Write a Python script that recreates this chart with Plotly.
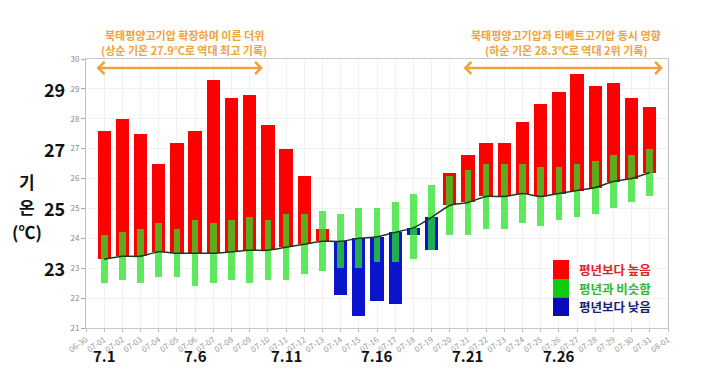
import plotly.graph_objects as go

# ---- data ----
dates = ["06-30"] + [f"07-{d:02d}" for d in range(1, 32)] + ["08-01"]
days = [f"07-{d:02d}" for d in range(1, 32)]

observed = [27.6, 28.0, 27.5, 26.5, 27.2, 27.6, 29.3, 28.7, 28.8, 27.8, 27.0, 26.1,
            24.3, 22.1, 21.4, 21.9, 21.8, 24.1, 23.6, 26.2, 26.8, 27.2, 27.2, 27.9,
            28.5, 28.9, 29.5, 29.1, 29.2, 28.7, 28.4]
normal = [23.3, 23.4, 23.4, 23.55, 23.5, 23.5, 23.5, 23.55, 23.6, 23.6, 23.7, 23.8,
          23.9, 23.9, 24.0, 24.05, 24.2, 24.35, 24.7, 25.1, 25.2, 25.4, 25.4, 25.5,
          25.4, 25.5, 25.6, 25.7, 25.9, 26.0, 26.2]
sim_high = [24.1, 24.2, 24.3, 24.5, 24.3, 24.6, 24.5, 24.6, 24.7, 24.6, 24.8, 24.8,
            24.9, 24.8, 25.0, 25.0, 25.2, 25.5, 25.8, 26.1, 26.3, 26.5, 26.5, 26.5,
            26.4, 26.4, 26.5, 26.6, 26.8, 26.8, 27.0]
sim_low = [22.5, 22.6, 22.5, 22.7, 22.7, 22.4, 22.5, 22.6, 22.5, 22.6, 22.6, 22.8,
           22.9, 23.0, 23.0, 23.2, 23.2, 23.3, 23.6, 24.1, 24.1, 24.3, 24.3, 24.5,
           24.4, 24.6, 24.7, 24.8, 25.0, 25.2, 25.4]

y_big_labels = [29, 27, 25, 23]
x_big_labels = ["07-01", "07-06", "07-11", "07-16", "07-21", "07-26"]
x_big_text = ["7.1", "7.6", "7.11", "7.16", "7.21", "7.26"]

legend_labels = ["평년보다 높음", "평년과 비슷함", "평년보다 낮음"]
note_left = ["북태평양고기압 확장하며 이른 더위", "(상순 기온 27.9℃로 역대 최고 기록)"]
note_right = ["북태평양고기압과 티베트고기압 동시 영향", "(하순 기온 28.3℃로 역대 2위 기록)"]

RED = "#ff0000"
BLUE = "#0a14cc"
GREEN_T = "rgba(40,225,40,0.75)"
ORANGE = "#f0a23c"
FONT = "Noto Sans CJK KR, sans-serif"

dev = [o - n for o, n in zip(observed, normal)]
dev_colors = [RED if d >= 0 else BLUE for d in dev]

fig = go.Figure()
fig.add_trace(go.Bar(x=days, y=dev, base=normal, width=0.73,
                     marker=dict(color=dev_colors, line=dict(width=0)),
                     showlegend=False, hoverinfo="skip"))
fig.add_trace(go.Bar(x=days, y=[h - l for h, l in zip(sim_high, sim_low)], base=sim_low,
                     width=0.37, marker=dict(color=GREEN_T, line=dict(width=0)),
                     showlegend=False, hoverinfo="skip"))
fig.add_trace(go.Scatter(x=days, y=normal, mode="lines",
                         line=dict(color="#1d3a1d", width=1.5, shape="spline", smoothing=0.6),
                         showlegend=False, hoverinfo="skip"))

L, R, T, B = 86, 52, 59, 48
W, H = 720, 376
pw, ph = W - L - R, H - T - B


def px_x(p):
    return (p - L) / pw


def px_y(p):
    return (H - B - p) / ph


ann = []
for v in y_big_labels:
    ann.append(dict(x=px_x(54), xref="paper", y=v, yref="y", text=f"<b>{v}</b>",
                    xanchor="center", yanchor="middle",
                    showarrow=False, font=dict(size=18, color="#111", family=FONT)))
for d, t in zip(x_big_labels, x_big_text):
    ann.append(dict(x=d, xref="x", y=px_y(355), yref="paper", text=f"<b>{t}</b>",
                    xanchor="center", yanchor="middle",
                    showarrow=False, font=dict(size=15, color="#111", family=FONT)))
for t, yy in zip(["기", "온", "(℃)"], [181, 206, 231]):
    ann.append(dict(x=px_x(27), xref="paper", y=px_y(yy), yref="paper", text=f"<b>{t}</b>",
                    xanchor="center", yanchor="middle",
                    showarrow=False, font=dict(size=17, color="#111", family=FONT)))

for cx, lines in [(184, note_left), (566, note_right)]:
    for t, yy in zip(lines, [35, 50]):
        ann.append(dict(x=px_x(cx), y=px_y(yy), xref="paper", yref="paper", showarrow=False,
                        xanchor="center", yanchor="middle", text=f"<b>{t}</b>",
                        font=dict(size=11, color=ORANGE, family=FONT)))

for x0, x1 in [(95, 263), (462, 663)]:
    ann.append(dict(x=px_x(x1), y=px_y(68), xref="paper", yref="paper",
                    ax=-(x1 - x0), ay=0, axref="pixel", ayref="pixel", text="",
                    showarrow=True, arrowhead=4, arrowside="end+start",
                    arrowsize=0.9, arrowwidth=2.6, arrowcolor=ORANGE, standoff=0, startstandoff=0))

shapes = []
leg_cols = ["#ff0000", "#11cc11", "#0a0abb"]
txt_cols = ["#e02424", "#2fb82f", "#1c1c80"]
edges = [260, 279, 297.5, 316]
for i in range(3):
    shapes.append(dict(type="rect", xref="paper", yref="paper",
                       x0=px_x(553), x1=px_x(569), y0=px_y(edges[i + 1]), y1=px_y(edges[i]),
                       fillcolor=leg_cols[i], line=dict(width=0)))
    ann.append(dict(x=px_x(577), y=px_y((edges[i] + edges[i + 1]) / 2), xref="paper", yref="paper",
                    xanchor="left", yanchor="middle", showarrow=False, text=f"<b>{legend_labels[i]}</b>",
                    font=dict(size=12.5, color=txt_cols[i], family=FONT)))

fig.update_layout(
    width=W, height=H, margin=dict(l=L, r=R, t=T, b=B),
    paper_bgcolor="white", plot_bgcolor="white",
    barmode="overlay", bargap=0,
    annotations=ann, shapes=shapes,
    font=dict(family=FONT),
)
fig.update_xaxes(type="category", categoryorder="array", categoryarray=dates,
                 tickvals=dates, ticktext=dates, range=[0, 32],
                 tickangle=-35, tickfont=dict(size=8, color="#999"),
                 ticks="outside", ticklen=3, tickcolor="#bbb",
                 showgrid=True, gridcolor="#f1f1f1", gridwidth=1,
                 showline=True, linecolor="#c8c8c8", mirror=True, zeroline=False)
fig.update_yaxes(range=[21, 30], dtick=1, tickfont=dict(size=8, color="#888"),
                 ticks="outside", ticklen=4, tickcolor="#aaa",
                 showgrid=True, gridcolor="#f1f1f1", gridwidth=1,
                 showline=True, linecolor="#c0c0c0", mirror=True, zeroline=False)

fig.write_html("out.html", config={"displayModeBar": False},
               post_script="document.body.style.margin='0';")
